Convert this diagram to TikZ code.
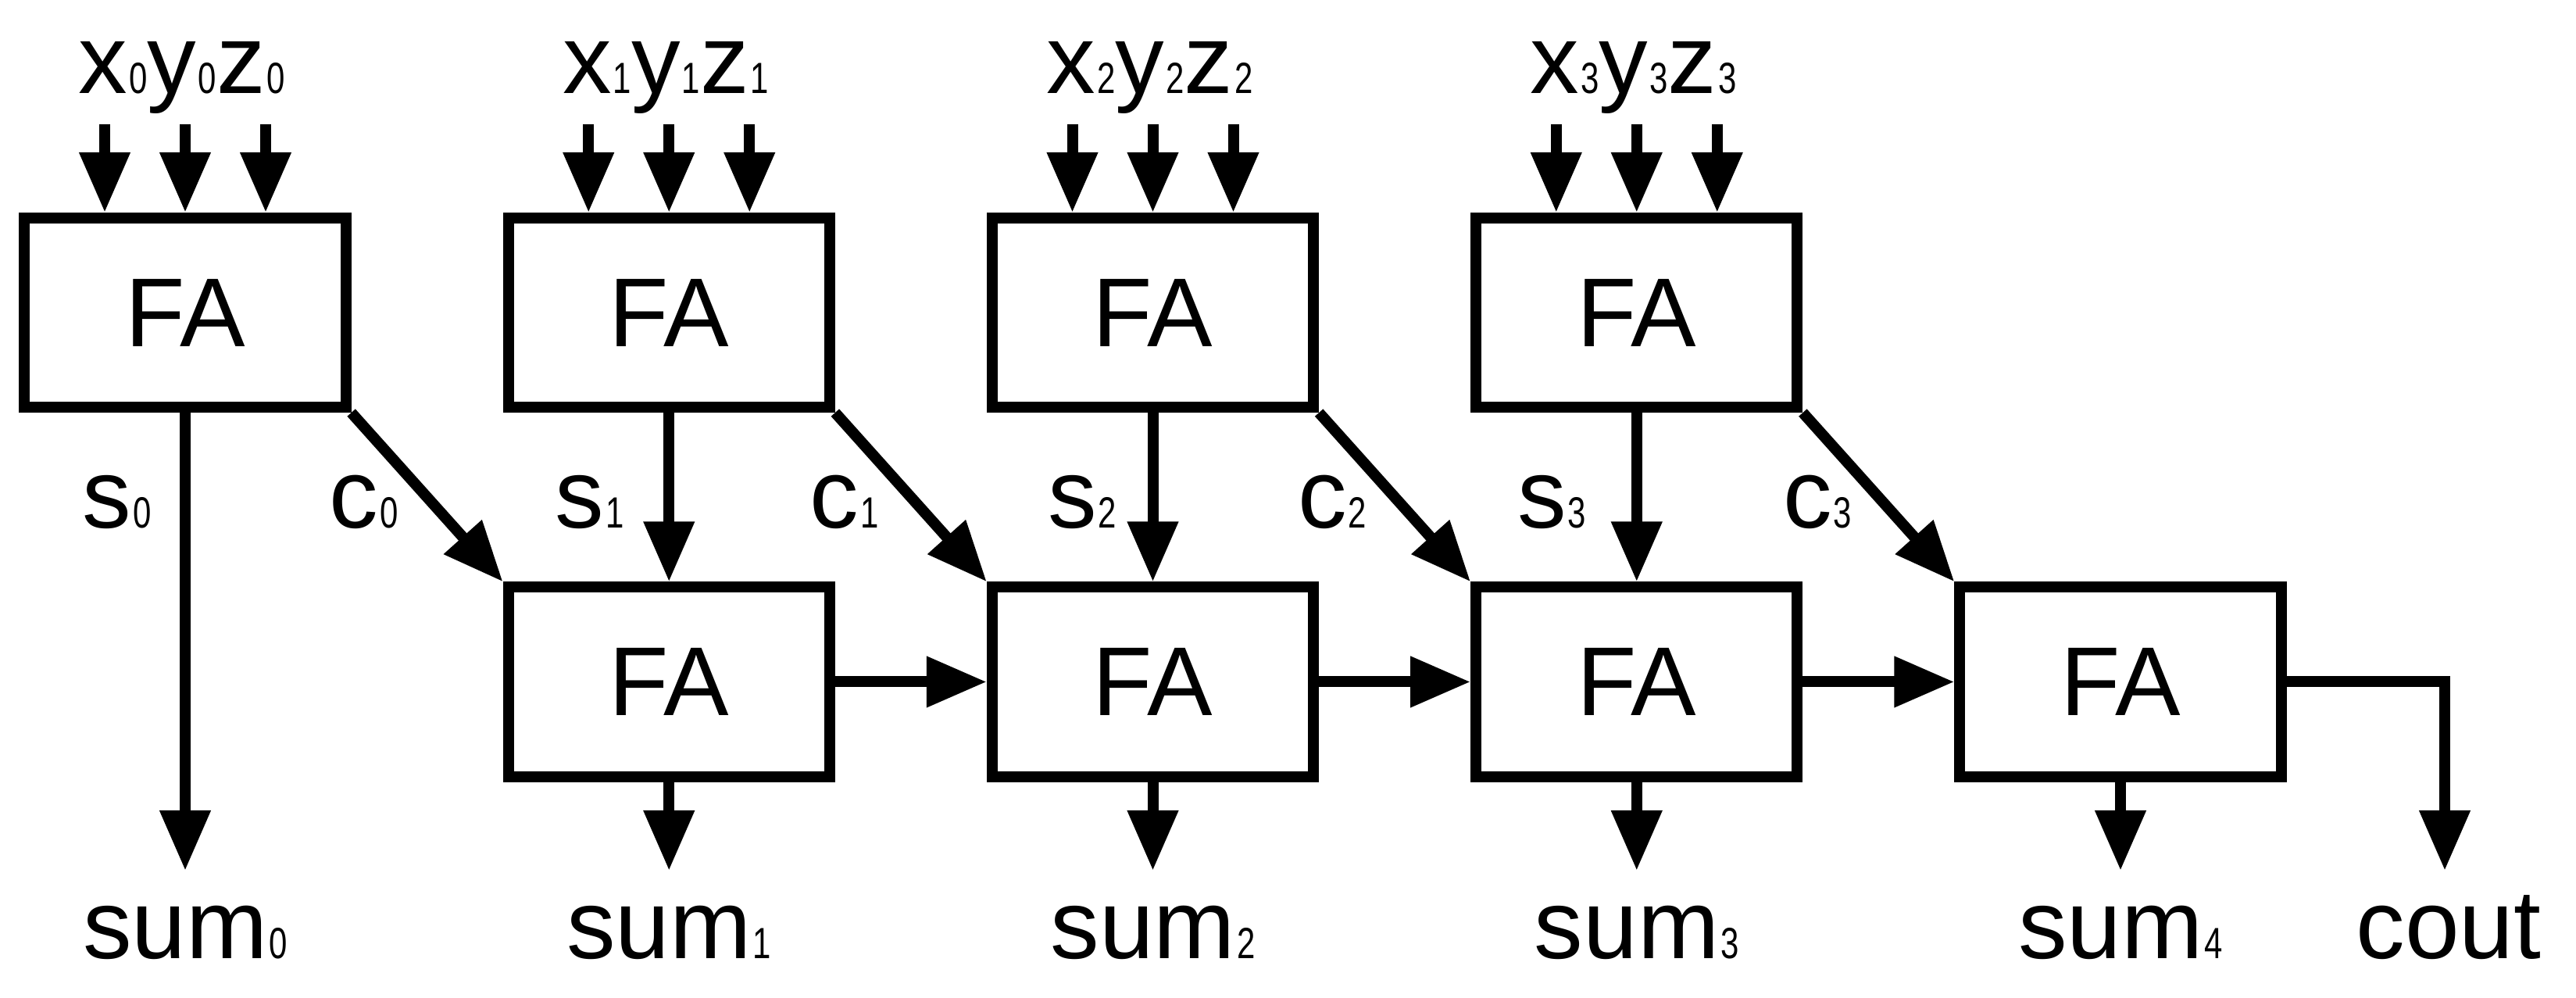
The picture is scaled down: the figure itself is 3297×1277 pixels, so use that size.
\documentclass[tikz,border=0pt]{standalone}
\usepackage{graphicx}
\usepackage{fontspec}
\setmainfont{Liberation Sans}
\usetikzlibrary{arrows.meta}
\newcommand{\mylab}[2]{{\fontsize{35.6pt}{40pt}\selectfont #1}\hspace{0.6pt}\scalebox{0.75}[1]{\fontsize{15.9pt}{18pt}\selectfont #2}}
\tikzset{
  fabox/.style={draw, line width=0.14cm, minimum width=4.11cm, minimum height=2.42cm,
    inner sep=0pt, font=\fontsize{35.6pt}{40pt}\selectfont},
  conn/.style={line width=0.14cm, -{Triangle[length=0.77cm,width=0.62cm]}},
  lbl/.style={inner sep=0pt, anchor=base},
}
\begin{document}
\begin{tikzpicture}[x=0.01cm, y=0.01cm]
\useasboundingbox (0,0) rectangle (3297,1277);
% top row
\node[fabox] (t0) at (237,877) {FA};
\node[fabox] (t1) at (856.25,877) {FA};
\node[fabox] (t2) at (1475.5,877) {FA};
\node[fabox] (t3) at (2094.75,877) {FA};
% bottom row
\node[fabox] (b1) at (856.25,404.5) {FA};
\node[fabox] (b2) at (1475.5,404.5) {FA};
\node[fabox] (b3) at (2094.75,404.5) {FA};
\node[fabox] (b4) at (2714,404.5) {FA};
% input labels
\node[lbl] (in0) at (233,1157) {\mylab{x}{0}\mylab{y}{0}\mylab{z}{0}};
\node[lbl] (in1) at (852.25,1157) {\mylab{x}{1}\mylab{y}{1}\mylab{z}{1}};
\node[lbl] (in2) at (1471.5,1157) {\mylab{x}{2}\mylab{y}{2}\mylab{z}{2}};
\node[lbl] (in3) at (2090.75,1157) {\mylab{x}{3}\mylab{y}{3}\mylab{z}{3}};
% input arrows
\coordinate (ia0) at (134,1118); \coordinate (ib0) at (237,1118); \coordinate (ic0) at (340,1118);
\coordinate (ia1) at (753.25,1118); \coordinate (ib1) at (856.25,1118); \coordinate (ic1) at (959.25,1118);
\coordinate (ia2) at (1372.5,1118); \coordinate (ib2) at (1475.5,1118); \coordinate (ic2) at (1578.5,1118);
\coordinate (ia3) at (1991.75,1118); \coordinate (ib3) at (2094.75,1118); \coordinate (ic3) at (2197.75,1118);
\draw[conn] (ia0) -- (ia0 |- t0.north);
\draw[conn] (ib0) -- (ib0 |- t0.north);
\draw[conn] (ic0) -- (ic0 |- t0.north);
\draw[conn] (ia1) -- (ia1 |- t1.north);
\draw[conn] (ib1) -- (ib1 |- t1.north);
\draw[conn] (ic1) -- (ic1 |- t1.north);
\draw[conn] (ia2) -- (ia2 |- t2.north);
\draw[conn] (ib2) -- (ib2 |- t2.north);
\draw[conn] (ic2) -- (ic2 |- t2.north);
\draw[conn] (ia3) -- (ia3 |- t3.north);
\draw[conn] (ib3) -- (ib3 |- t3.north);
\draw[conn] (ic3) -- (ic3 |- t3.north);
% sum outputs
\coordinate (e0) at (237,163);
\coordinate (e1) at (856.25,163);
\coordinate (e2) at (1475.5,163);
\coordinate (e3) at (2094.75,163);
\coordinate (e4) at (2714,163);
\coordinate (ec) at (3129,163);
\draw[conn] (t0.south) -- (e0);
\draw[conn] (t1.south) -- (b1.north);
\draw[conn] (t2.south) -- (b2.north);
\draw[conn] (t3.south) -- (b3.north);
\draw[conn] (b1.south) -- (e1);
\draw[conn] (b2.south) -- (e2);
\draw[conn] (b3.south) -- (e3);
\draw[conn] (b4.south) -- (e4);
% carries
\draw[conn] (t0.south east) -- (b1.north west);
\draw[conn] (t1.south east) -- (b2.north west);
\draw[conn] (t2.south east) -- (b3.north west);
\draw[conn] (t3.south east) -- (b4.north west);
\draw[conn] (b1.east) -- (b2.west);
\draw[conn] (b2.east) -- (b3.west);
\draw[conn] (b3.east) -- (b4.west);
\draw[conn] (b4.east) -| (ec);
% s and c labels
\node[lbl] (ls0) at (150,601) {\mylab{s}{0}};
\node[lbl] (ls1) at (755,601) {\mylab{s}{1}};
\node[lbl] (ls2) at (1385,601) {\mylab{s}{2}};
\node[lbl] (ls3) at (1986,601) {\mylab{s}{3}};
\node[lbl] (lc0) at (466,601) {\mylab{c}{0}};
\node[lbl] (lc1) at (1081,601) {\mylab{c}{1}};
\node[lbl] (lc2) at (1705,601) {\mylab{c}{2}};
\node[lbl] (lc3) at (2326,601) {\mylab{c}{3}};
% output labels
\node[lbl] (lo0) at (237,50) {\mylab{sum}{0}};
\node[lbl] (lo1) at (856.25,50) {\mylab{sum}{1}};
\node[lbl] (lo2) at (1475.5,50) {\mylab{sum}{2}};
\node[lbl] (lo3) at (2094.75,50) {\mylab{sum}{3}};
\node[lbl] (lo4) at (2714,50) {\mylab{sum}{4}};
\node[lbl] (lco) at (3134,50) {\fontsize{35.6pt}{40pt}\selectfont cout};
\end{tikzpicture}
\end{document}
